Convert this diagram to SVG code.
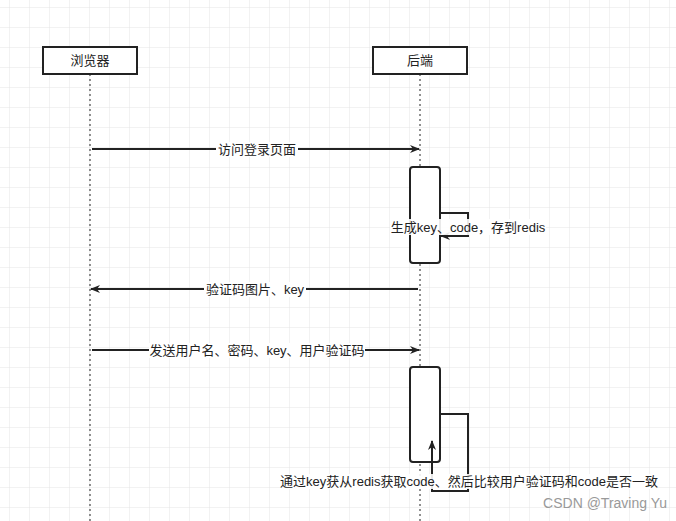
<svg xmlns="http://www.w3.org/2000/svg" width="676" height="521" viewBox="0 0 676 521">
<defs>
<pattern id="g" width="20" height="20" patternUnits="userSpaceOnUse" x="10" y="8"><path d="M20 0V20M0 20H20" fill="none" stroke="#e4e4e4" stroke-width="1"/></pattern>
<marker id="a" markerWidth="10" markerHeight="8" refX="9" refY="4" orient="auto" markerUnits="userSpaceOnUse"><path d="M0 0L10 4L0 8L3 4Z" fill="#222"/></marker>
<style>
.n{fill:#fff;stroke:#222;stroke-width:2}
.t{font-family:"Liberation Sans","Noto Sans CJK SC",sans-serif;font-size:13px;fill:#222}
.l{stroke:#222;stroke-width:1;stroke-dasharray:2 3}
.m{stroke:#222;stroke-width:2;fill:none}
.bg{fill:#fff}
</style>
</defs>
<rect width="676" height="521" fill="#fff"/>
<rect width="676" height="521" fill="url(#g)"/>
<g id="lifelines">
<line class="l" x1="90" y1="74" x2="90" y2="521"/>
<line class="l" x1="420" y1="74" x2="420" y2="521"/>
</g>
<g id="browser"><rect class="n" x="43" y="47" width="94" height="27"/><text class="t" x="90" y="65" text-anchor="middle">浏览器</text></g>
<g id="backend"><rect class="n" x="373" y="47" width="94" height="27"/><text class="t" x="420" y="65" text-anchor="middle">后端</text></g>
<g id="act1"><rect class="n" x="410" y="167" width="30" height="96" rx="3"/></g>
<g id="act2"><rect class="n" x="410" y="367" width="30" height="95" rx="3"/></g>
<g id="connectors">
<line class="m" x1="92" y1="149" x2="419" y2="149" marker-end="url(#a)"/>
<rect class="bg" x="216" y="142" width="82" height="15"/>
<text class="t" x="257" y="154" text-anchor="middle">访问登录页面</text>
<path class="m" d="M440 213H468V236H441" marker-end="url(#a)"/>
<rect class="bg" x="390" y="219" width="156" height="16" opacity="0.9"/>
<text class="t" x="468" y="232" text-anchor="middle">生成key、code，存到redis</text>
<line class="m" x1="418" y1="289" x2="91" y2="289" marker-end="url(#a)"/>
<rect class="bg" x="204" y="282" width="102" height="15"/>
<text class="t" x="255" y="294" text-anchor="middle">验证码图片、key</text>
<line class="m" x1="92" y1="350" x2="419" y2="350" marker-end="url(#a)"/>
<rect class="bg" x="149" y="343" width="216" height="15"/>
<text class="t" x="257" y="355" text-anchor="middle">发送用户名、密码、key、用户验证码</text>
<path class="m" d="M440 414H468V491H432V441" marker-end="url(#a)"/>
<rect class="bg" x="280" y="474" width="378" height="15" opacity="0.9"/>
<text class="t" x="469" y="486" text-anchor="middle">通过key获从redis获取code、然后比较用户验证码和code是否一致</text>
</g>
<text x="667" y="508" text-anchor="end" font-family="Liberation Sans,sans-serif" font-size="14" fill="#999">CSDN @Traving Yu</text>
</svg>
